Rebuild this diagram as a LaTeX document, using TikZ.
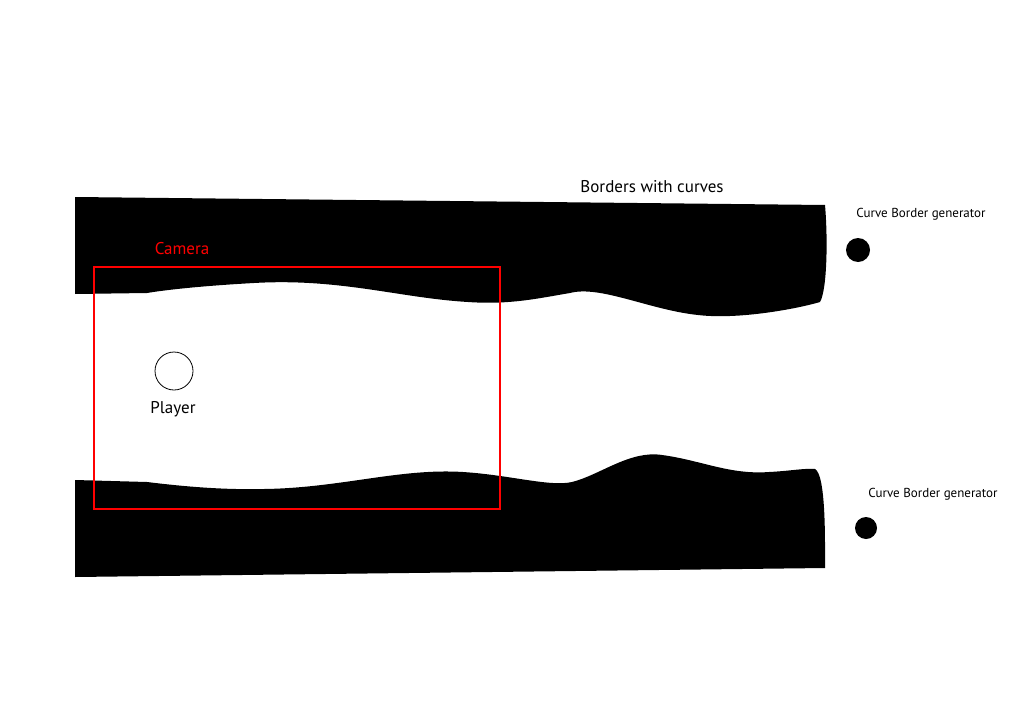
\documentclass[tikz,border=0pt]{standalone}
\usepackage{fontspec}
\setmainfont{PT Sans}
\begin{document}
\begin{tikzpicture}[x=1pt,y=-1pt,
  lbl/.style={inner sep=0pt,font=\fontsize{17}{20}\selectfont},
  small/.style={inner sep=0pt,font=\fontsize{13}{16}\selectfont},
  dot/.style={circle,fill=black,inner sep=0pt}]
\useasboundingbox (0,0) rectangle (1024,706);
% top border
\fill[black] (75,197) -- (825,205) .. controls (828,240) and (827,290) .. (820,302)
  .. controls (800,308) and (740,320) .. (698,315)
  .. controls (650,310) and (600,285) .. (570,293)
  .. controls (540,298) and (510,305) .. (468,302)
  .. controls (400,298) and (340,278) .. (254,283)
  .. controls (200,286) and (165,290) .. (147,293) -- (75,294) -- cycle;
% bottom border
\fill[black] (75,480) -- (147,482)
  .. controls (180,486) and (220,490) .. (264,489)
  .. controls (340,488) and (400,468) .. (463,472)
  .. controls (510,475) and (550,487) .. (572,482)
  .. controls (600,475) and (630,450) .. (662,455)
  .. controls (700,460) and (730,475) .. (769,472)
  .. controls (790,471) and (805,468) .. (815,469)
  .. controls (826,475) and (825,540) .. (825,568) -- (75,577) -- cycle;
\draw[red,line width=2.2pt] (94,267) rectangle (500,509);
\node[draw,circle,minimum size=38pt,inner sep=0pt,line width=0.8pt] (player) at (174,371) {};
\node[lbl,anchor=north] (plbl) at (173,401) {Player};
\node[lbl,text=red] (cam) at (182,249) {Camera};
\node[lbl] (bwc) at (652,187) {Borders with curves};
\node[small] (g1) at (921,214) {Curve Border generator};
\node[small] (g2) at (933,494) {Curve Border generator};
\node[dot,minimum size=24pt] (d1) at (858,250) {};
\node[dot,minimum size=22pt] (d2) at (866,528) {};
\end{tikzpicture}
\end{document}
